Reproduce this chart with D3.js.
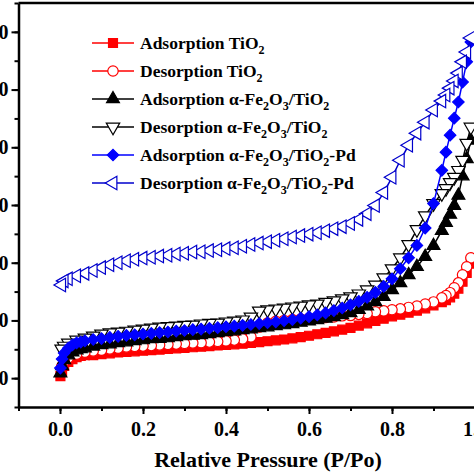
<!DOCTYPE html>
<html lang="en">
<head>
	<meta charset="UTF-8" />
	<title>N2 isotherms</title>
	<script type="text/javascript" src="https://cdn.jsdelivr.net/npm/d3@7/dist/d3.min.js"></script>
	<style>
		body { margin: 0; background: #fff; }
		text { font-family: "Liberation Serif", "Times New Roman", serif; font-weight: bold; }
	</style>
</head>
<body>
	<svg id="vis" width="474" height="474"></svg>
	<script type="text/javascript">
		// Relative pressures (adsorption branch, then desorption branch)
		var pAds = [0.001, 0.005, 0.01, 0.02, 0.03, 0.04, 0.05, 0.06,
			0.08, 0.10, 0.12, 0.14, 0.16, 0.18, 0.20, 0.22, 0.24, 0.26,
			0.28, 0.30, 0.32, 0.34, 0.36, 0.38, 0.40, 0.42, 0.44, 0.46,
			0.48, 0.50, 0.52, 0.54, 0.56, 0.58, 0.60, 0.62, 0.64, 0.66,
			0.68, 0.70, 0.72, 0.74, 0.76, 0.78, 0.80, 0.82, 0.84, 0.86,
			0.88, 0.90, 0.92, 0.93, 0.94, 0.95, 0.96, 0.97, 0.98, 0.99];
		var pDes = [0.99, 0.98, 0.97, 0.96, 0.95, 0.94, 0.93, 0.92,
			0.90, 0.88, 0.86, 0.84, 0.82, 0.80, 0.78, 0.76, 0.74, 0.72,
			0.70, 0.68, 0.66, 0.64, 0.62, 0.60, 0.58, 0.56, 0.54, 0.52,
			0.50, 0.48, 0.46, 0.44, 0.42, 0.40, 0.38, 0.36, 0.34, 0.32,
			0.30, 0.28, 0.26, 0.24, 0.22, 0.20, 0.18, 0.16, 0.14, 0.12,
			0.10, 0.08, 0.06, 0.04, 0.02, 0.01, 0.004];

		// Volumes adsorbed
		var tio2Ads = [20.7, 22.4, 24.2, 25.6, 26.6, 27.3, 27.7, 28.0,
			28.0, 28.3, 28.6, 28.9, 29.1, 29.3, 29.5, 29.7, 29.9, 30.1,
			30.3, 30.5, 30.7, 30.9, 31.1, 31.3, 31.5, 31.7, 31.9, 32.2,
			32.5, 32.8, 33.1, 33.4, 33.8, 34.2, 34.7, 35.2, 35.7, 36.2,
			36.8, 37.4, 38.2, 39.0, 39.8, 40.6, 41.4, 42.0, 42.7, 43.4,
			44.2, 45.2, 46.3, 47.0, 48.0, 49.3, 51.0, 53.4, 56.5, 59.7];
		var tio2Des = [61.7, 58.6, 55.8, 53.0, 51.3, 49.6, 48.6, 47.8,
			46.4, 45.7, 45.0, 44.5, 44.0, 43.7, 43.3, 43.0, 42.4, 42.1,
			41.7, 41.6, 41.2, 41.0, 40.9, 40.7, 40.5, 40.3, 40.0, 39.7,
			39.1, 37.7, 34.3, 33.6, 33.2, 32.9, 32.7, 32.5, 32.3, 32.2,
			32.0, 31.8, 31.7, 31.5, 31.3, 31.1, 31.0, 30.8, 30.4, 30.1,
			29.7, 29.4, 29.0, 28.3, 27.0, 25.8, 24.0];
		var feAds = [21.7, 24.2, 26.3, 28.0, 29.0, 29.7, 30.1, 30.4,
			31.0, 31.5, 31.8, 32.2, 32.5, 32.9, 33.2, 33.6, 33.7, 33.9,
			34.3, 34.6, 34.8, 35.0, 35.3, 35.7, 36.0, 36.3, 36.7, 37.0,
			37.4, 37.7, 38.1, 38.4, 38.8, 39.3, 39.7, 40.2, 40.7, 41.2,
			41.9, 42.6, 43.7, 44.9, 46.4, 48.2, 50.6, 53.0, 55.8, 58.6,
			62.1, 65.9, 71.1, 73.9, 76.7, 79.8, 83.3, 90.0, 96.0, 102.4];
		var feDes = [107.0, 101.4, 95.5, 92.0, 89.6, 87.8, 85.7, 84.0,
			80.5, 76.3, 71.5, 66.3, 61.7, 57.9, 54.8, 52.3, 50.6, 49.2,
			48.2, 47.5, 46.8, 46.3, 45.7, 45.4, 45.0, 44.7, 44.3, 44.0,
			43.7, 43.3, 41.2, 40.2, 39.8, 39.5, 39.1, 39.0, 38.8, 38.4,
			38.3, 38.1, 37.9, 37.7, 37.4, 37.0, 36.7, 36.3, 36.0, 35.7,
			35.3, 34.6, 33.9, 33.2, 32.2, 31.1, 30.1];
		var pdAds = [23.5, 26.6, 28.7, 30.4, 31.5, 32.2, 32.5, 32.9,
			33.4, 33.7, 34.1, 34.5, 34.8, 35.0, 35.3, 35.5, 35.8, 36.0,
			36.3, 36.5, 36.8, 37.0, 37.3, 37.5, 37.8, 38.0, 38.3, 38.6,
			38.9, 39.2, 39.5, 39.9, 40.3, 40.8, 41.3, 41.9, 42.6, 43.4,
			44.3, 45.4, 46.6, 48.0, 49.7, 51.8, 54.4, 57.9, 61.7, 66.0,
			72.0, 80.5, 92.0, 98.3, 104.2, 110.1, 115.7, 122.6, 129.6, 136.5];
		var pdDes = [137.9, 133.0, 129.6, 125.7, 123.0, 120.5, 118.1, 116.0,
			112.9, 108.7, 104.9, 100.7, 95.5, 89.6, 84.3, 79.8, 77.0, 75.0,
			73.6, 72.5, 71.8, 71.1, 70.4, 69.9, 69.4, 68.9, 68.3, 67.8,
			67.3, 66.8, 66.3, 65.7, 65.2, 64.9, 64.5, 64.2, 63.8, 63.7,
			63.3, 63.0, 62.6, 62.3, 61.9, 61.6, 61.2, 60.7, 60.0, 59.3,
			58.3, 57.3, 56.3, 55.5, 54.4, 53.7, 52.3];

		var xTicks = [0, 0.2, 0.4, 0.6, 0.8, 1.0];
		var yTicks = [20, 40, 60, 80, 100, 120, 140];

		var series = [
			{ name: "Adsorption ", sample: "TiO", tail: "", p: pAds, v: tio2Ads, color: "#ff0000", shape: d3.symbolSquare, rot: 0, filled: true, size: 80 },
			{ name: "Desorption ", sample: "TiO", tail: "", p: pDes, v: tio2Des, color: "#ff0000", shape: d3.symbolCircle, rot: 0, filled: false, size: 85 },
			{ name: "Adsorption ", sample: "α-Fe", tail: "", p: pAds, v: feAds, color: "#000000", shape: d3.symbolTriangle, rot: 0, filled: true, size: 72 },
			{ name: "Desorption ", sample: "α-Fe", tail: "", p: pDes, v: feDes, color: "#000000", shape: d3.symbolTriangle, rot: 180, filled: false, size: 78 },
			{ name: "Adsorption ", sample: "α-Fe", tail: "-Pd", p: pAds, v: pdAds, color: "#0000ff", shape: d3.symbolSquare, rot: 45, filled: true, size: 66 },
			{ name: "Desorption ", sample: "α-Fe", tail: "-Pd", p: pDes, v: pdDes, color: "#0000cc", shape: d3.symbolTriangle, rot: -90, filled: false, size: 78 }
		];

		var svg = d3.select("#vis");

		// Echelles
		var scaleX = d3.scaleLinear().domain([-0.1, 1.1]).range([18.5, 516.5]);
		var scaleY = d3.scaleLinear().domain([10, 150]).range([407, 3]);

		// Minor ticks
		svg.append("g")
			.attr("transform", "translate(0,407)")
			.call(d3.axisBottom(scaleX).tickValues(d3.range(-0.1, 1.1, 0.1)).tickSize(4).tickFormat(""))
			.call(function(g) { g.select(".domain").remove(); g.selectAll("line").attr("stroke-width", 2); });
		svg.append("g")
			.attr("transform", "translate(18.5,0)")
			.call(d3.axisLeft(scaleY).tickValues(d3.range(10, 151, 10)).tickSize(4).tickFormat(""))
			.call(function(g) { g.select(".domain").remove(); g.selectAll("line").attr("stroke-width", 2); });

		// Axes
		var gx = svg.append("g")
			.attr("transform", "translate(0,407)")
			.call(d3.axisBottom(scaleX).tickValues(xTicks).tickSize(7).tickSizeOuter(0).tickPadding(8).tickFormat(d3.format(".1f")));
		var gy = svg.append("g")
			.attr("transform", "translate(18.5,0)")
			.call(d3.axisLeft(scaleY).tickValues(yTicks).tickSize(7).tickSizeOuter(0).tickPadding(3).tickFormat(d3.format("d")));
		[gx, gy].forEach(function(g) {
			g.select(".domain").attr("stroke-width", 2.5);
			g.selectAll("line").attr("stroke-width", 2);
			g.selectAll("text").attr("font-size", 20).attr("font-family", null).attr("fill", "#000");
		});

		// Top border
		svg.append("line")
			.attr("x1", 18.5).attr("x2", 516.5).attr("y1", 3).attr("y2", 3)
			.attr("stroke", "#000").attr("stroke-width", 2.5);

		// Axis title
		svg.append("text")
			.attr("x", 268).attr("y", 467)
			.attr("text-anchor", "middle")
			.attr("font-size", 22)
			.text("Relative Pressure (P/Po)");

		// Courbes
		var line = d3.line()
			.x(function(d) { return scaleX(d[0]); })
			.y(function(d) { return scaleY(d[1]); });

		series.forEach(function(s) {
			var pts = d3.zip(s.p, s.v);
			var g = svg.append("g");
			g.append("path")
				.attr("d", line(pts))
				.attr("fill", "none")
				.attr("stroke", s.color)
				.attr("stroke-width", 1.5);
			g.selectAll("path.m")
				.data(pts)
				.enter().append("path")
				.attr("class", "m")
				.attr("d", d3.symbol().type(s.shape).size(s.size))
				.attr("transform", function(d) { return "translate(" + scaleX(d[0]) + "," + scaleY(d[1]) + ") rotate(" + s.rot + ")"; })
				.attr("fill", s.filled ? s.color : "#fff")
				.attr("stroke", s.color)
				.attr("stroke-width", 1.2);
		});

		// Legende
		var legend = svg.append("g");
		series.forEach(function(s, i) {
			var y = 43 + i * 28;
			legend.append("line")
				.attr("x1", 92).attr("x2", 134).attr("y1", y).attr("y2", y)
				.attr("stroke", s.color).attr("stroke-width", 1.5);
			legend.append("path")
				.attr("d", d3.symbol().type(s.shape).size(s.size))
				.attr("transform", "translate(113," + y + ") rotate(" + s.rot + ")")
				.attr("fill", s.filled ? s.color : "#fff")
				.attr("stroke", s.color)
				.attr("stroke-width", 1.2);
			var t = legend.append("text")
				.attr("x", 140).attr("y", y + 6)
				.attr("font-size", 17.5);
			t.append("tspan").text(s.name + s.sample);
			t.append("tspan").attr("font-size", 12).attr("dy", 5).text("2");
			if (s.sample != "TiO") {
				t.append("tspan").attr("dy", -5).text("O");
				t.append("tspan").attr("font-size", 12).attr("dy", 5).text("3");
				t.append("tspan").attr("dy", -5).text("/TiO");
				t.append("tspan").attr("font-size", 12).attr("dy", 5).text("2");
				if (s.tail) t.append("tspan").attr("dy", -5).text(s.tail);
			}
		});
	</script>
</body>
</html>
